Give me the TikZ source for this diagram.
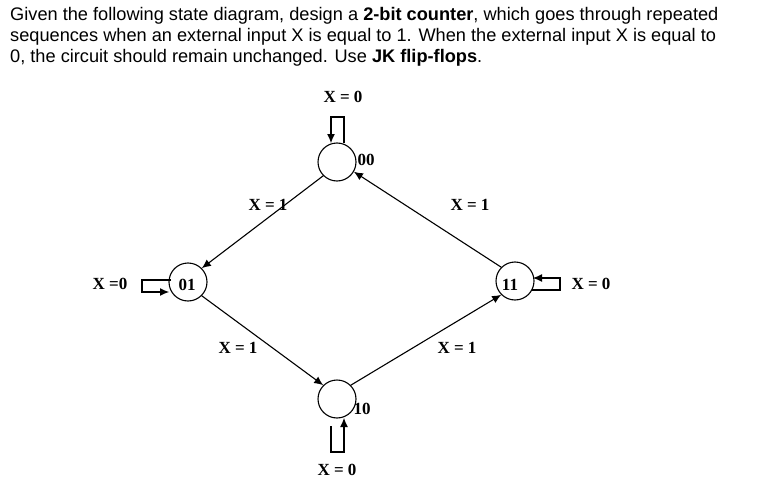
\documentclass[tikz,border=0pt]{standalone}
\usepackage{fontspec}
\usetikzlibrary{arrows.meta}
\setmainfont{Liberation Serif}
\newfontfamily\arial{Liberation Sans}
\begin{document}
\begin{tikzpicture}[x=1pt,y=-1pt,
 st/.style={circle,draw,line width=1.1pt,minimum size=38pt,inner sep=0pt},
 lab/.style={font=\fontsize{17}{19}\selectfont\bfseries,inner sep=1pt},
 ln/.style={line width=1.1pt},
 arr/.style={ln,-{Latex[length=9pt,width=8pt]}}]
\useasboundingbox (0,0) rectangle (766,495);
\node[anchor=west,align=left,font=\arial\fontsize{18.2}{21}\selectfont,inner sep=0pt] (txt) at (10,37)
 {Given the following state diagram, design a \textbf{2-bit counter}, which goes through repeated\\
 sequences when an external input X is equal to 1. When the external input X is equal to\\
 0, the circuit should remain unchanged. Use \textbf{JK flip-flops}.};
\node[st] (s00) at (337,162) {};
\node[st] (s01) at (188,282) {};
\node[st] (s11) at (515,281) {};
\node[st] (s10) at (337,399) {};
\node[lab] (l00) at (366,160) {00};
\node[lab] (l01) at (187,285) {01};
\node[lab] (l11) at (510,285) {11};
\node[lab] (l10) at (362,409) {10};
% transitions
\draw[arr] (s00.225) -- (s01.45);
\draw[arr] (s01.-45) -- (s10.135);
\draw[arr] (s10.45) -- (s11.225);
\draw[arr] (s11.135) -- (s00.-30);
\node[lab] (x1a) at (268,205) {X = 1};
\node[lab] (x1b) at (470,205) {X = 1};
\node[lab] (x1c) at (238,348) {X = 1};
\node[lab] (x1d) at (457,348) {X = 1};
% self loops
\coordinate (t1) at (344,143); \coordinate (t2) at (344,117); \coordinate (t3) at (331,117); \coordinate (t4) at (331,143);
\draw[arr] (t1) -- (t2) -- (t3) -- (t4);
\coordinate (a1) at (171,280); \coordinate (a2) at (142,280); \coordinate (a3) at (142,292); \coordinate (a4) at (169,292);
\draw[arr] (a1) -- (a2) -- (a3) -- (a4);
\coordinate (b1) at (331,426); \coordinate (b2) at (331,452); \coordinate (b3) at (344,452); \coordinate (b4) at (344,418);
\draw[arr] (b1) -- (b2) -- (b3) -- (b4);
\coordinate (c1) at (532,290); \coordinate (c2) at (560,290); \coordinate (c3) at (560,278); \coordinate (c4) at (533,278);
\draw[arr] (c1) -- (c2) -- (c3) -- (c4);
\node[lab] (x0a) at (343,97) {X = 0};
\node[lab] (x0b) at (110,284) {X =0};
\node[lab] (x0c) at (591,284) {X = 0};
\node[lab] (x0d) at (337,470) {X = 0};
\end{tikzpicture}
\end{document}
